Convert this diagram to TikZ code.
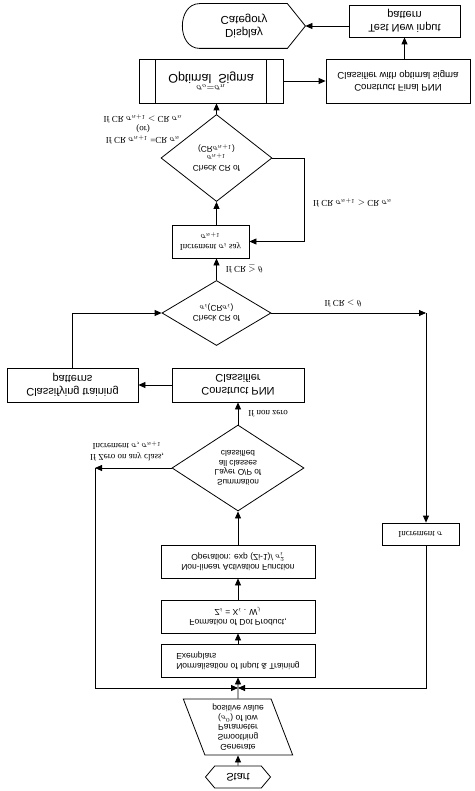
\documentclass[tikz,border=0pt]{standalone}
\usepackage{fontspec}
\setmainfont{Liberation Serif}
\setsansfont{Liberation Sans}
\usetikzlibrary{shapes.geometric, shapes.symbols, arrows.meta, positioning, calc}
\tikzset{
  % Process block
  procbox/.style={rectangle, draw, line width=0.8pt, align=center, inner sep=1pt,
    font=\sffamily\fontsize{8.5}{10}\selectfont},
  bigbox/.style={procbox, font=\sffamily\fontsize{11}{13}\selectfont},
  serifbox/.style={procbox, font=\fontsize{9}{10.5}\selectfont},
  % Decision diamond
  decision/.style={diamond, aspect=1.5, draw, line width=0.8pt, align=center,
    inner sep=0pt, font=\sffamily\fontsize{8.3}{9.8}\selectfont},
  % Terminal and input
  startstop/.style={signal, signal to=west and east, signal pointer angle=100, draw,
    line width=0.8pt, inner sep=0pt, font=\sffamily\fontsize{11}{13}\selectfont},
  inputbox/.style={trapezium, trapezium left angle=70, trapezium right angle=110,
    trapezium stretches=true, draw, line width=0.8pt, align=center, inner sep=0pt,
    font=\sffamily\fontsize{8.5}{9.6}\selectfont},
  flowarrow/.style={-{Triangle[length=7pt,width=6pt]}, line width=0.8pt},
  flowlabel/.style={font=\fontsize{9}{10.5}\selectfont, inner sep=0pt, align=center}
}

\begin{document}
\begin{tikzpicture}[x=1pt, y=1pt, yscale=-1, transform shape]
  \useasboundingbox (0,0) rectangle (474,791);

  % Start
  \node[startstop, minimum width=65pt, minimum height=22pt] (start) at (238,777) {Start};

  % Smoothing parameter
  \node[inputbox, minimum width=110pt, minimum height=56pt] (gen) at (238,727)
    {Generate\\Smoothing\\Parameter\\($\sigma^0$) of low\\positive value};

  % Network layers
  \node[procbox, align=left, minimum width=154pt, minimum height=33pt] (norm) at (238,660.5)
    {Normalisation of Input \& Training\\Exemplars};
  \node[procbox, minimum width=154pt, minimum height=33pt] (dot) at (238,616.5)
    {Formation of Dot Product,\\Z$_i$ = X$_i$ . W$_j$};
  \node[procbox, minimum width=154pt, minimum height=33pt] (act) at (238,561.5)
    {Non-linear Activation Function\\Operation: exp (Zi-1)/ $\sigma_i^2$};

  % Summation decision
  \node[decision, minimum width=132pt, minimum height=86pt] (sum) at (238,468)
    {Summation\\Layer O/P of\\all classes\\classified};

  % Classifier
  \node[bigbox, minimum width=132pt, minimum height=34pt] (pnn) at (238,385)
    {Construct PNN\\Classifier};
  \node[bigbox, minimum width=131pt, minimum height=34pt] (train) at (72.5,385)
    {Classifying training\\patterns};

  % First CR check
  \node[decision, minimum width=109pt, minimum height=65pt] (chk) at (216.5,313)
    {Check CR of\\$\sigma_i$(CR$\sigma_i$)};
  \node[serifbox, minimum width=77pt, minimum height=22pt] (incs) at (420.5,534)
    {Increment $\sigma$};

  % Sigma search
  \node[serifbox, minimum width=77pt, minimum height=33pt] (incr) at (210.5,241.5)
    {Increment $\sigma_i$ say\\$\sigma_{n+1}$};
  \node[decision, minimum width=111pt, minimum height=87pt] (chk2) at (216.5,158)
    {Check CR of\\$\sigma_{n+1}$\\(CR$\sigma_{n+1}$)};

  % Optimal sigma and final classifier
  \node[procbox, minimum width=144pt, minimum height=44pt] (opt) at (211,81)
    {{\fontsize{10}{12}\selectfont $\sigma_o{=}\sigma_n$}\\{\fontsize{12.5}{14}\selectfont Optimal\ \ Sigma}};
  \draw[line width=0.8pt] ([xshift=17pt]opt.north west) -- ([xshift=17pt]opt.south west);
  \draw[line width=0.8pt] ([xshift=-17pt]opt.north east) -- ([xshift=-17pt]opt.south east);
  \node[procbox, font=\sffamily\fontsize{9.6}{11.5}\selectfont, minimum width=144pt, minimum height=44pt]
    (final) at (398,81) {Construct Final PNN\\Classifier with optimal sigma};
  \node[bigbox, minimum width=111pt, minimum height=32pt] (test) at (404.5,21)
    {Test New input\\pattern};

  % Display
  \node[bigbox, draw=none, font=\sffamily\fontsize{11.5}{13}\selectfont,
    minimum width=122pt, minimum height=44pt] (disp) at (244,26) {Display\\Category};
  \draw[line width=0.8pt] (disp.east) -- ([xshift=-18pt]disp.north east)
    -- ([xshift=17pt]disp.north west)
    .. controls ([xshift=-6pt]disp.north west) and ([xshift=-6pt]disp.south west) ..
    ([xshift=17pt]disp.south west) -- ([xshift=-18pt]disp.south east) -- cycle;

  % Loop corners
  \coordinate (merge) at (238,688);
  \coordinate (mL) at (95,468);
  \coordinate (mR) at (426,313);

  % Arrows
  \draw[flowarrow] (start) -- (gen);
  \draw[flowarrow] (gen) -- (norm);
  \draw[flowarrow] (norm) -- (dot);
  \draw[flowarrow] (dot) -- (act);
  \draw[flowarrow] (act) -- (sum);
  \draw[flowarrow] (sum) -- (pnn) node[flowlabel, midway, right=10pt] {If non zero};
  \draw[flowarrow] (pnn) -- (train);
  \draw[flowarrow] (train) |- (chk);
  \draw[flowarrow] (chk.south) -- (chk.south |- incr.north)
    node[flowlabel, midway, right=9pt] {If CR $\geq\theta$};
  \draw[flowarrow] (incr.south -| chk2.north) -- (chk2.north);
  \draw[flowarrow] (chk2.east) -- ++(32,0) |- (incr.east);
  \draw[flowarrow] (chk2.south) -- (chk2.south |- opt.north);
  \draw[flowarrow] (opt) -- (final);
  \draw[flowarrow] (test.north |- final.south) -- (test.north);
  \draw[flowarrow] (test.west |- disp.east) -- (disp.east);

  % Loops back to normalisation
  \draw[flowarrow] (sum.west) -- (mL);
  \draw[flowarrow] (mL) |- (merge);
  \draw[flowarrow] (chk.east) -- (mR);
  \draw[flowarrow] (mR) -- (mR |- incs.south);
  \draw[flowarrow] (incs.north -| mR) |- (merge);

  % Labels
  \node[flowlabel] (lblLess) at (343,303) {If CR $<\theta$};
  \node[flowlabel, anchor=west] (lblMore) at (313,203) {If CR $\sigma_{n+1}>$ CR $\sigma_n$};
  \node[flowlabel] (lblOpt) at (143,129)
    {If CR $\sigma_{n+1}$ =CR $\sigma_n$\\(or)\\If CR $\sigma_{n+1}$ $<$ CR $\sigma_n$};
  \node[flowlabel] (lblZero) at (127,451) {If Zero on any class,\\Increment $\sigma$, $\sigma_{n+1}$};
\end{tikzpicture}
\end{document}
